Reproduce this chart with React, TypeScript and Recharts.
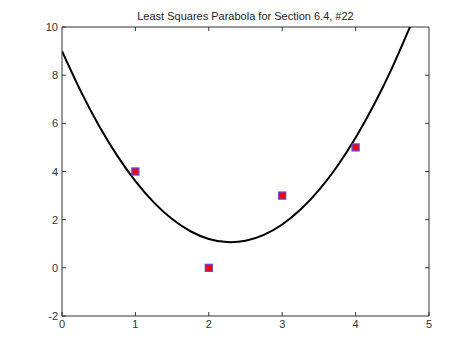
import { ComposedChart, Line, Scatter, XAxis, YAxis, ReferenceLine } from "recharts"

// data points from Section 6.4, #22
const pointX = [1, 2, 3, 4]
const pointY = [4, 0, 3, 5]

// least squares parabola at steps of 0.25
const curveX = [0, 0.25, 0.5, 0.75, 1, 1.25, 1.5, 1.75, 2, 2.25, 2.5, 2.75, 3, 3.25, 3.5, 3.75, 4, 4.25, 4.5, 4.75]
const curveY = [9, 7.369, 5.925, 4.669, 3.6, 2.719, 2.025, 1.519, 1.2, 1.069, 1.125, 1.369, 1.8, 2.419, 3.225, 4.219, 5.4, 6.769, 8.325, 10.069]

const xTicks = [0, 1, 2, 3, 4, 5]
const yTicks = [-2, 0, 2, 4, 6, 8, 10]

const points = pointX.map((x, i) => ({ x, y: pointY[i] }))
const curve = curveX.map((x, i) => ({ x, y: curveY[i] }))

const FONT = "'Liberation Sans', Arial, sans-serif"
const AXIS = "#333"

const BottomTick = (props: any) => {
  const { x, y, payload } = props
  return (
    <g>
      <line x1={x} x2={x} y1={y} y2={y - 4} stroke={AXIS} />
      <text x={x} y={y + 12} textAnchor="middle" fontSize={11} fontFamily={FONT} fill="#333">
        {payload.value}
      </text>
    </g>
  )
}

const LeftTick = (props: any) => {
  const { x, y, payload } = props
  return (
    <g>
      <line x1={x} x2={x + 4} y1={y} y2={y} stroke={AXIS} />
      <text x={x - 4} y={y + 4} textAnchor="end" fontSize={11} fontFamily={FONT} fill="#333">
        {payload.value}
      </text>
    </g>
  )
}

const SquareMarker = (props: any) => {
  const { cx, cy } = props
  return <rect x={cx - 3.5} y={cy - 3.5} width={7} height={7} fill="#ff0000" stroke="#6a44d0" strokeWidth={1.3} />
}

const App = () => {
  return (
    <div style={{ position: "fixed", left: 0, top: 0, width: 474, height: 355, background: "#fff" }}>
      <div
        style={{
          position: "absolute",
          left: 62,
          width: 367,
          top: 10,
          textAlign: "center",
          fontFamily: FONT,
          fontSize: 11,
          color: "#222",
        }}
      >
        Least Squares Parabola for Section 6.4, #22
      </div>
      <ComposedChart width={474} height={355} margin={{ top: 27, right: 45, bottom: 19, left: 32 }}>
        <XAxis
          dataKey="x"
          type="number"
          domain={[0, 5]}
          ticks={xTicks}
          allowDataOverflow
          height={20}
          tickSize={0}
          tickMargin={0}
          tickLine={false}
          stroke={AXIS}
          tick={<BottomTick />}
        />
        <YAxis
          dataKey="y"
          type="number"
          domain={[-2, 10]}
          ticks={yTicks}
          allowDataOverflow
          width={30}
          tickSize={0}
          tickMargin={0}
          tickLine={false}
          stroke={AXIS}
          tick={<LeftTick />}
        />
        {/* box: top and right edges with inward ticks */}
        <ReferenceLine y={10} stroke={AXIS} ifOverflow="extendDomain" />
        <ReferenceLine x={5} stroke={AXIS} ifOverflow="extendDomain" />
        {xTicks.slice(1, -1).map((t) => (
          <ReferenceLine
            key={"tx" + t}
            segment={[{ x: t, y: 10 }, { x: t, y: 9.83 }]}
            stroke={AXIS}
          />
        ))}
        {yTicks.slice(1, -1).map((t) => (
          <ReferenceLine
            key={"ty" + t}
            segment={[{ x: 5, y: t }, { x: 4.946, y: t }]}
            stroke={AXIS}
          />
        ))}
        <Line
          data={curve}
          dataKey="y"
          type="natural"
          stroke="#000"
          strokeWidth={2}
          dot={false}
          isAnimationActive={false}
        />
        <Scatter data={points} dataKey="y" shape={<SquareMarker />} isAnimationActive={false} />
      </ComposedChart>
    </div>
  )
}

export default App
